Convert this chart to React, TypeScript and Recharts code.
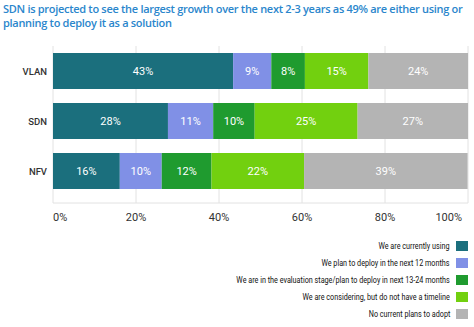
import { BarChart, Bar, XAxis, YAxis, CartesianGrid, LabelList } from "recharts";

const categories = ["VLAN", "SDN", "NFV"];
const currentlyUsing = [43.4, 27.7, 16.1];
const plan12 = [9.2, 10.9, 10.1];
const evaluation = [8.1, 10.0, 12.0];
const considering = [15.3, 24.8, 22.3];
const noPlans = [24.0, 26.6, 39.4];
const xTicks = [0, 20, 40, 60, 80, 100];

const series = [
  { key: "using", label: "We are currently using", color: "#1b6f7d", values: currentlyUsing },
  { key: "plan", label: "We plan to deploy in the next 12 months", color: "#8090e6", values: plan12 },
  { key: "eval", label: "We are in the evaluation stage/plan to deploy in next 13-24 months", color: "#1f9b2f", values: evaluation },
  { key: "consider", label: "We are considering, but do not have a timeline", color: "#72d00f", values: considering },
  { key: "none", label: "No current plans to adopt", color: "#b4b4b4", values: noPlans },
];

const data = categories.map((name, i) => {
  const row: Record<string, number | string> = { name };
  series.forEach((s) => (row[s.key] = s.values[i]));
  return row;
});

function XTick(props: any) {
  const { x, y, payload } = props;
  const v = payload.value;
  const anchor = v === 0 ? "start" : v === 100 ? "end" : "middle";
  return (
    <text x={x} y={y + 10} textAnchor={anchor} fontSize={11} fill="#333" fontFamily="Roboto">
      {v}%
    </text>
  );
}

// category label, right edge a few px left of the plot
function YTick(props: any) {
  const { y, payload } = props;
  return (
    <text x={47} y={y} dy={3.5} textAnchor="end" fontSize={9.5} fontWeight={500} fill="#333" fontFamily="Roboto">
      {payload.value}
    </text>
  );
}

export default function App() {
  return (
    <div style={{ position: "absolute", left: 0, top: 0, width: 474, height: 327, background: "#fff", fontFamily: "Roboto" }}>
      <div
        style={{
          position: "absolute",
          left: 3,
          top: 2,
          color: "#2a86cc",
          fontFamily: "'Open Sans'",
          fontWeight: 600,
          fontSize: 11,
          lineHeight: "13.5px",
          whiteSpace: "nowrap",
          letterSpacing: -0.3,
        }}
      >
        SDN is projected to see the largest growth over the next 2-3 years as 49% are either using or
        <br />
        planning to deploy it as a solution
      </div>
      <BarChart
        width={474}
        height={327}
        data={data}
        layout="vertical"
        margin={{ top: 46, right: 6, bottom: 94, left: 0 }}
        barSize={36}
      >
        <CartesianGrid horizontal={false} stroke="#e2e2e2" />
        <XAxis
          type="number"
          domain={[0, 100]}
          ticks={xTicks}
          tick={<XTick />}
          tickLine={false}
          axisLine={{ stroke: "#e2e2e2" }}
          height={30}
        />
        <XAxis
          xAxisId="top"
          orientation="top"
          type="number"
          domain={[0, 100]}
          tick={false}
          tickLine={false}
          axisLine={{ stroke: "#e2e2e2" }}
          height={0}
        />
        <YAxis
          type="category"
          dataKey="name"
          width={53}
          tickLine={false}
          axisLine={false}
          padding={{ top: 0, bottom: 7 }}
          tick={<YTick />}
        />
        {series.map((s) => (
          <Bar key={s.key} dataKey={s.key} stackId="a" fill={s.color} isAnimationActive={false}>
            <LabelList
              dataKey={s.key}
              position="center"
              fill="#fff"
              fontSize={11}
              fontFamily="Roboto"
              formatter={(v: any) => `${Math.round(v)}%`}
            />
          </Bar>
        ))}
      </BarChart>
      <div style={{ position: "absolute", right: 6, top: 237, width: 460 }}>
        {series.map((s) => (
          <div key={s.key} style={{ display: "flex", justifyContent: "flex-end", alignItems: "center", height: 17 }}>
            <span
              style={{
                display: "inline-block",
                fontSize: 9.5,
                color: "#111",
                whiteSpace: "nowrap",
                transform: "scaleX(0.76)",
                transformOrigin: "right center",
                marginRight: 6,
              }}
            >
              {s.label}
            </span>
            <span style={{ display: "inline-block", width: 12, height: 10, background: s.color }} />
          </div>
        ))}
      </div>
    </div>
  );
}
